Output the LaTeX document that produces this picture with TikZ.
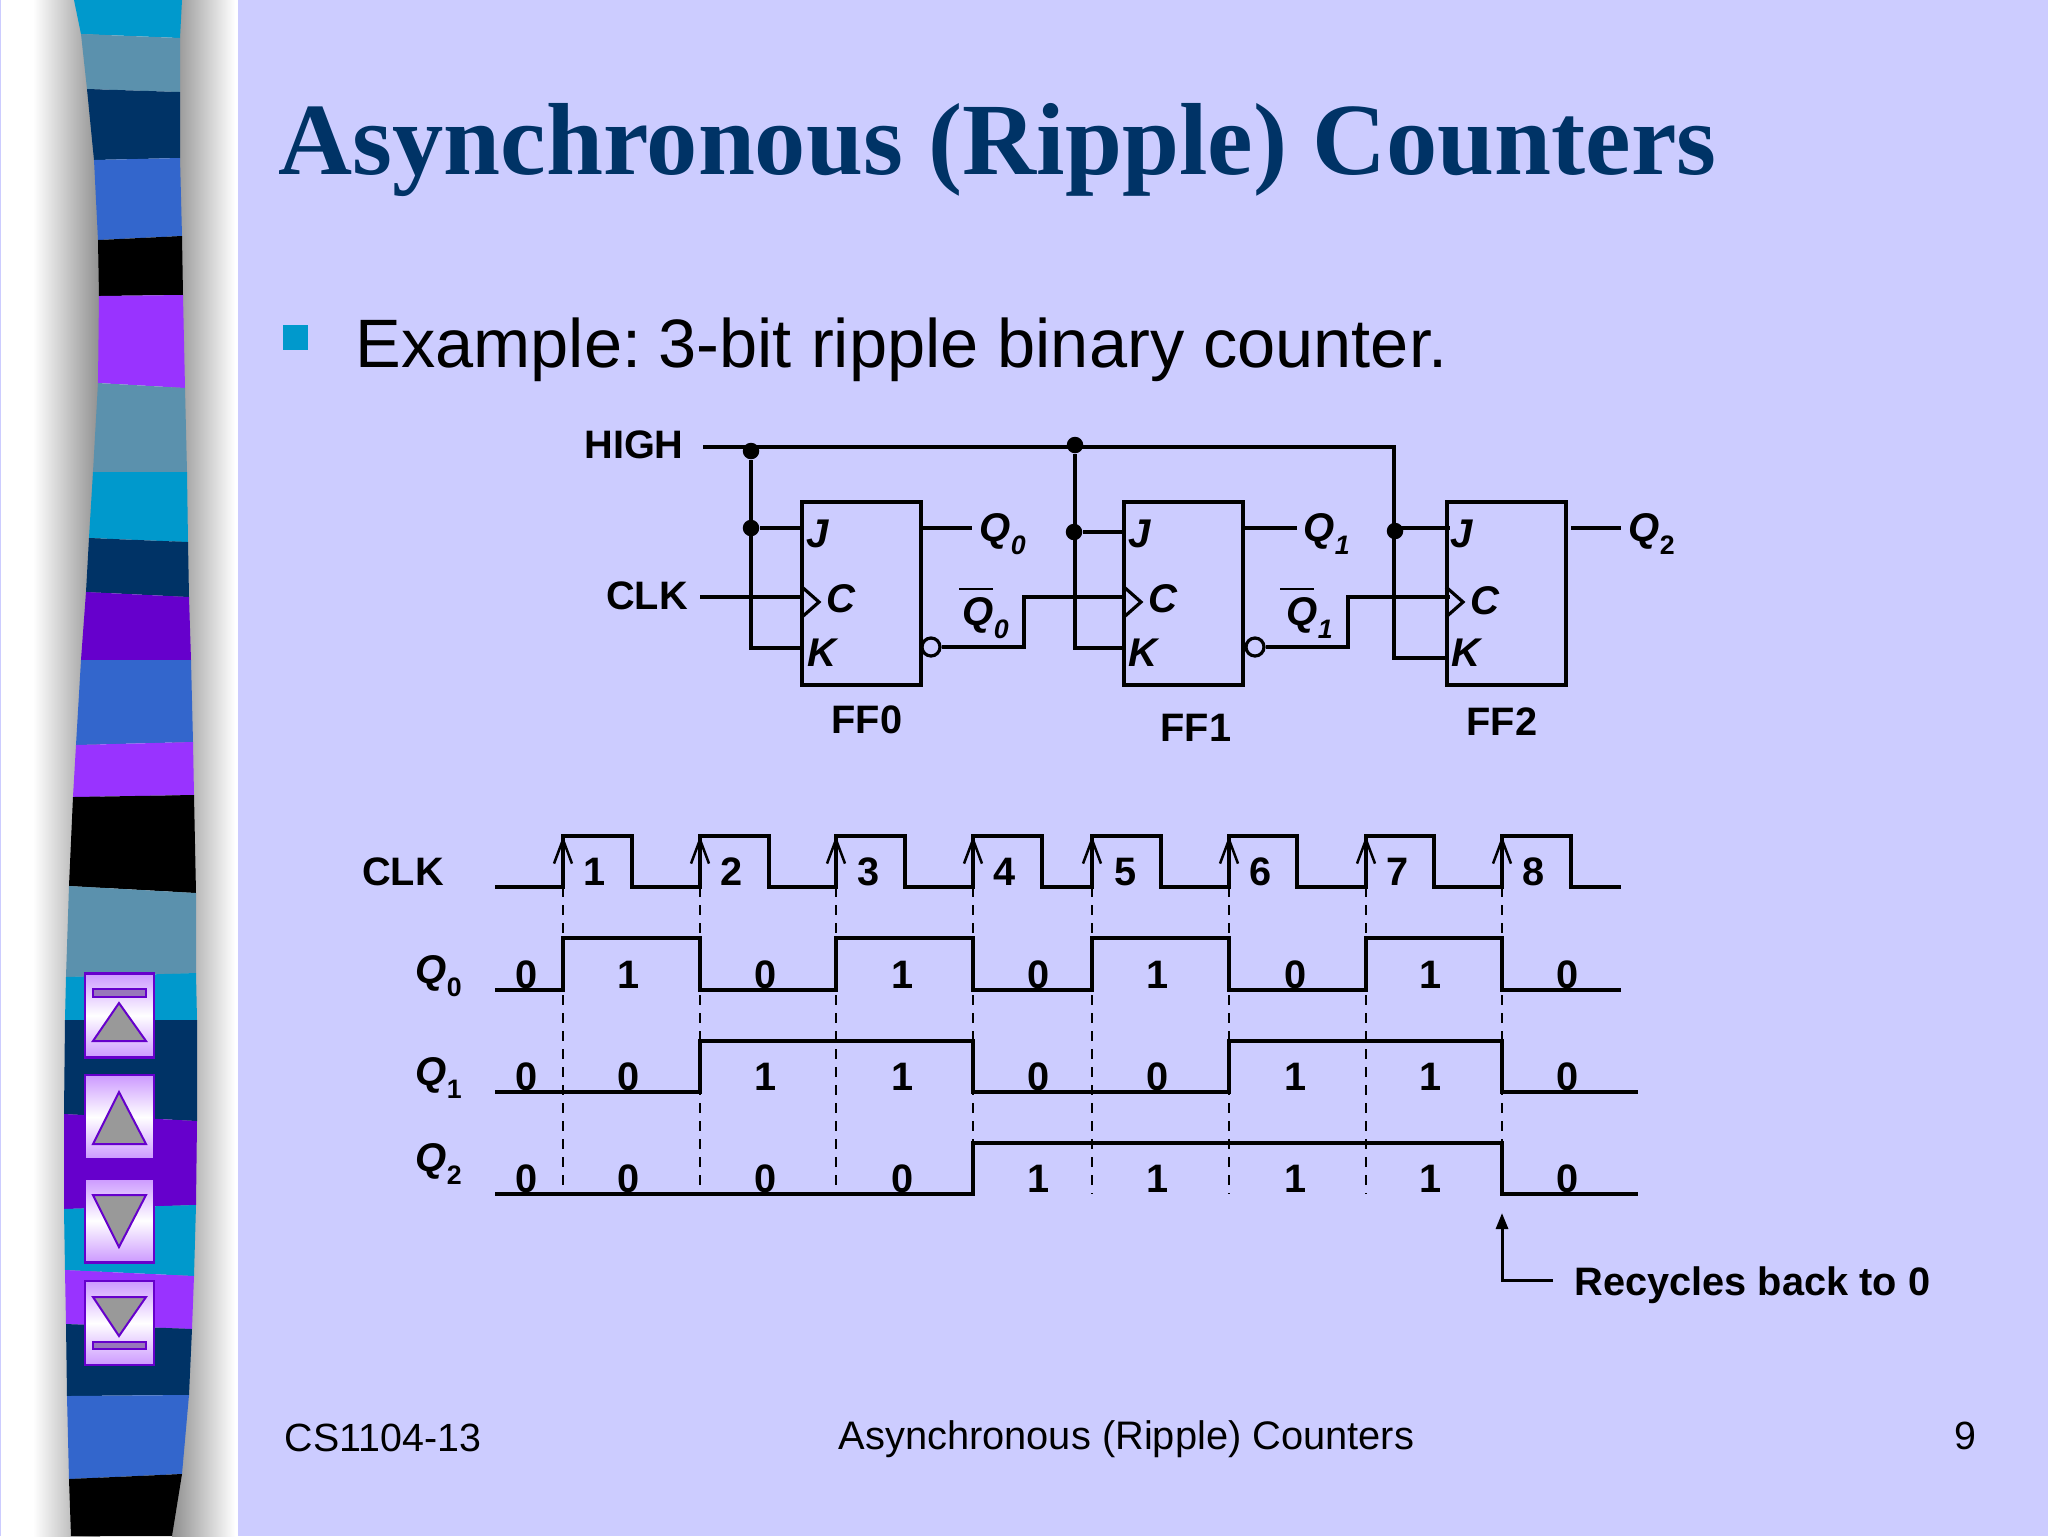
\documentclass[tikz,border=0pt]{standalone}
\usepackage{fontspec}
\usepackage{tikz}
\usetikzlibrary{arrows.meta}
\setmainfont{Liberation Sans}
\newfontfamily\titlefont{Liberation Serif}

\definecolor{slidebg}{HTML}{CCCCFF}
\definecolor{titleblue}{HTML}{003366}
\definecolor{rbcyan}{HTML}{0099CC}
\definecolor{rbsteel}{HTML}{5B91AD}
\definecolor{rbnavy}{HTML}{003366}
\definecolor{rbblue}{HTML}{3366CC}
\definecolor{rbpurple}{HTML}{9933FF}
\definecolor{rbindigo}{HTML}{6600CC}
\definecolor{btnlilac}{HTML}{CC99FF}
\definecolor{shadowgray}{HTML}{8F8F8F}

\newcommand{\qlab}[1]{\textit{Q}\raisebox{-0.32em}{\fontsize{7.6}{8}\selectfont #1}}

\tikzset{
    wire/.style={line width=0.32mm},
    wave/.style={line width=0.33mm},
    ffbox/.style={draw,line width=0.4mm,minimum width=11.9mm,minimum height=18.3mm,inner sep=0},
    jdot/.style={circle,fill=black,minimum size=1.65mm,inner sep=0},
    bubble/.style={circle,draw,line width=0.32mm,minimum size=1.8mm,inner sep=0},
    pinlbl/.style={inner sep=0,font=\fontsize{11.4}{13}\selectfont\bfseries\itshape},
    txtlbl/.style={inner sep=0,font=\fontsize{11.3}{13}\selectfont\bfseries},
    foot/.style={inner sep=0,anchor=base west,font=\fontsize{11.2}{13}\selectfont},
    navbtn/.style={draw=rbindigo,line width=0.25mm,minimum width=6.9mm,minimum height=8.4mm,inner sep=0,
        top color=btnlilac,bottom color=btnlilac,middle color=white},
    navtri/.style={draw=rbindigo,fill=black!40,line width=0.2mm},
    navbar/.style={draw=rbindigo,fill=rbpurple!55!black!60,line width=0.2mm},
}

\begin{document}
\begin{tikzpicture}[x=0.1mm,y=-0.1mm]
    \useasboundingbox (0,0) rectangle (2048,1536);
    \fill[slidebg] (0,0) rectangle (2048,1536);

    % left ribbon
    \fill[white] (1,0) rectangle (238,1536);
    \shade[left color=white,right color=shadowgray] (33,0) rectangle (100,1536);
    \shade[left color=shadowgray,right color=white] (172,0) rectangle (235,1536);
    \foreach \i/\xl/\yl/\xr/\yr in {0/74/0/182/0,1/81/34/180/38,2/87/89/180/92,3/94/160/180/158,
        4/98/240/182/236,5/99/296/183/295,6/98/383/185/388,7/93/472/187/472,8/89/538/188/542,
        9/86/592/189/597,10/81/660/191/660,11/76/745/193/742,12/73/797/194/795,13/69/886/196/893,
        14/66/977/196/973,15/65/1020/197/1020,16/64/1114/197/1121,17/64/1209/196/1205,
        18/65/1270/194/1276,19/66/1324/192/1329,20/67/1396/189/1395,21/69/1479/182/1474,22/71/1536/172/1536}
        {\coordinate (L\i) at (\xl,\yl); \coordinate (R\i) at (\xr,\yr);}
    \foreach \c [count=\i from 1,evaluate=\i as \j using int(\i-1)] in {rbcyan,rbsteel,rbnavy,rbblue,black,
        rbpurple,rbsteel,rbcyan,rbnavy,rbindigo,rbblue,rbpurple,black,rbsteel,rbcyan,rbnavy,rbindigo,
        rbcyan,rbpurple,rbnavy,rbblue,black}
        \fill[\c] (L\j) -- (R\j) -- (R\i) -- (L\i) -- cycle;

    % nav buttons
    \node[navbtn] (btn0) at (119.5,1015.5) {};
    \node[navbtn] (btn1) at (119.5,1117) {};
    \node[navbtn] (btn2) at (119.5,1220.5) {};
    \node[navbtn] (btn3) at (119.5,1323) {};
    \draw[navbar] (93,989) rectangle (146,997);
    \draw[navtri] (119,1003) -- (146,1041) -- (93,1041) -- cycle;
    \draw[navtri] (119,1092) -- (146,1144) -- (93,1144) -- cycle;
    \draw[navtri] (119,1247) -- (146,1195) -- (93,1195) -- cycle;
    \draw[navtri] (119,1336) -- (146,1297) -- (93,1297) -- cycle;
    \draw[navbar] (93,1342) rectangle (146,1349);

    % heading
    \node[inner sep=0,anchor=base west,text=titleblue,font=\titlefont\fontsize{29.15}{34}\selectfont\bfseries]
        (title) at (278,174.5) {Asynchronous (Ripple) Counters};
    \fill[rbcyan] (283,325) rectangle (308,350);
    \node[inner sep=0,anchor=base west,font=\fontsize{19.5}{23}\selectfont]
        (subtitle) at (355,367) {Example:\kern-0.8mm{} 3-bit ripple binary counter.};

    % flip-flops
    \node[ffbox] (ff0) at (861.5,593.5) {};
    \node[ffbox] (ff1) at (1183.5,593.5) {};
    \node[ffbox] (ff2) at (1506,593.5) {};
    \foreach \x in {802,1124,1446}
        \draw[wire] (\x,587) -- (\x+17,602) -- (\x,617);
    \node[txtlbl] (ff0lbl) at (867,720) {FF0};
    \node[txtlbl] (ff1lbl) at (1196,728) {FF1};
    \node[txtlbl] (ff2lbl) at (1502,722) {FF2};
    \node[pinlbl] (j0) at (818,534) {J};
    \node[pinlbl] (c0) at (841,599) {C};
    \node[pinlbl] (k0) at (822,653) {K};
    \node[pinlbl] (j1) at (1140,534) {J};
    \node[pinlbl] (c1) at (1163,599) {C};
    \node[pinlbl] (k1) at (1143,653) {K};
    \node[pinlbl] (j2) at (1462,534) {J};
    \node[pinlbl] (c2) at (1485,601) {C};
    \node[pinlbl] (k2) at (1466,653) {K};

    \node[txtlbl] (highlbl) at (634,445) {HIGH};
    \node[txtlbl] (clklbl) at (647,596) {CLK};
    \coordinate (hin) at (703,447);
    \coordinate (hend) at (1394,447);
    \coordinate (clkin) at (700,597);
    \coordinate (jpin2) at (1450,528);
    \node[jdot] (dh0) at (751,451) {};
    \node[jdot] (dh1) at (1075,445) {};
    \node[jdot] (dj0) at (751,528) {};
    \node[jdot] (dj1) at (1074,532) {};
    \node[jdot] (dj2) at (1395,531) {};

    \draw[wire] (hin) -- (hend) -- (1394,658) -- (1446,658);
    \draw[wire] (dh0) -- (751,648) -- (802,648);
    \draw[wire] (dh1) -- (1075,648) -- (1123,648);
    \draw[wire] (dj0) -- (802,528);
    \draw[wire] (dj1) -- (1123,532);
    \draw[wire] (dj2 |- jpin2) -- (jpin2);
    \draw[wire] (clkin) -- (802,597);

    % outputs
    \node[bubble] (b0) at (931,647) {};
    \node[bubble] (b1) at (1255,647) {};
    \draw[wire] (b0) -- (1024,647) -- (1024,597) -- (1123,597);
    \draw[wire] (b1) -- (1348,647) -- (1348,597) -- (1450,597);
    \draw[wire] (921,528) -- (972,528);
    \draw[wire] (1245,528) -- (1297,528);
    \draw[wire] (1571,528) -- (1621,528);
    \node[pinlbl,anchor=west] (q0) at (979,534) {\qlab{0}};
    \node[pinlbl,anchor=west] (q1) at (1303,534) {\qlab{1}};
    \node[pinlbl,anchor=west] (q2) at (1628,534) {\qlab{\upshape 2}};
    \node[pinlbl,anchor=west] (qb0) at (962,618) {\qlab{0}};
    \node[pinlbl,anchor=west] (qb1) at (1286,618) {\qlab{1}};
    \draw[line width=0.2mm] (959,589) -- (993,589);
    \draw[line width=0.2mm] (1280,589) -- (1314,589);

    % timing diagram
    \node[txtlbl] (clkrow) at (403,872) {CLK};
    \node[pinlbl,anchor=west] (q0row) at (415,976) {\qlab{\upshape 0}};
    \node[pinlbl,anchor=west] (q1row) at (415,1078) {\qlab{\upshape 1}};
    \node[pinlbl,anchor=west] (q2row) at (415,1164) {\qlab{\upshape 2}};

    \foreach \x/\yend [count=\i] in {563/1185,700/1185,836/1185,973/1185,1092/1194,1229/1194,1366/1194,1502/1143} {
        \coordinate (r\i) at (\x,836);
        \draw[line width=0.23mm,dash pattern=on 1mm off 0.8mm] (\x,887) -- (\x,\yend);
        \draw[line width=0.25mm,-{Straight Barb[length=2.4mm,width=1.8mm]}] (\x,887) -- (r\i);
    }
    \draw[wave] (495,887) -| (563,836) -| (632,887) -| (700,836) -| (769,887) -| (836,836) -| (905,887)
        -| (973,836) -| (1042,887) -| (1092,836) -| (1161,887) -| (1229,836) -| (1297,887) -| (1366,836)
        -| (1434,887) -| (1502,836) -| (1571,887) -- (1621,887);
    \draw[wave] (495,990) -| (563,938) -| (700,990) -| (836,938) -| (973,990) -| (1092,938) -| (1229,990)
        -| (1366,938) -| (1502,990) -- (1621,990);
    \draw[wave] (495,1092) -| (700,1041) -| (973,1092) -| (1229,1041) -| (1502,1092) -- (1638,1092);
    \draw[wave] (495,1194) -| (973,1143) -| (1502,1194) -- (1638,1194);

    \foreach \x/\n [count=\i] in {595/1,732/2,869/3,1005/4,1126/5,1261/6,1398/7,1534/8}
        \node[txtlbl] (tick\i) at (\x,872) {\n};
    \foreach \x/\a/\b/\c [count=\i] in {527/0/0/0,629/1/0/0,766/0/1/0,903/1/1/0,1039/0/0/1,
        1158/1/0/1,1296/0/1/1,1431/1/1/1,1568/0/0/0} {
        \node[txtlbl] (bita\i) at (\x,975) {\a};
        \node[txtlbl] (bitb\i) at (\x,1077) {\b};
        \node[txtlbl] (bitc\i) at (\x,1179) {\c};
    }

    \node[txtlbl,anchor=west] (recycle) at (1574,1285) {Recycles back to 0};
    \coordinate (rectip) at (1502,1213);
    \coordinate (recfrom) at (1553,1280);
    \draw[line width=0.3mm,-{Stealth[length=1.6mm,width=1.2mm,inset=0pt]}] (recfrom) -- (1502,1280) -- (rectip);

    % footer
    \node[foot] (footl) at (284,1451) {CS1104-13};
    \node[foot,font=\fontsize{11.33}{13}\selectfont] (footc) at (838,1449) {Asynchronous (Ripple) Counters};
    \node[foot] (footr) at (1954,1449) {9};
\end{tikzpicture}
\end{document}
